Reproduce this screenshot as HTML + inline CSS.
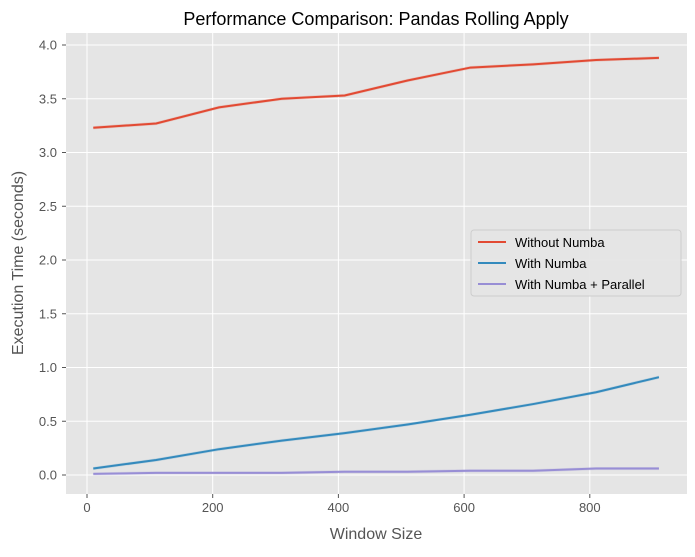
<!DOCTYPE html>
<html><head><meta charset="utf-8"><style>
body{margin:0;background:#fff;font-family:"Liberation Sans",sans-serif;}
</style></head><body>
<svg id="chart" width="695" height="552" xmlns="http://www.w3.org/2000/svg">
<rect x="0" y="0" width="695" height="552" fill="#fff"/>
<rect x="66" y="33" width="621" height="461" fill="#e5e5e5"/>
<g id="grid"></g>
<g id="series"></g>
<g id="ticks"></g>
<text x="376" y="25" text-anchor="middle" font-size="18" fill="#000">Performance Comparison: Pandas Rolling Apply</text>
<text x="376" y="539" text-anchor="middle" font-size="16" fill="#555">Window Size</text>
<text x="23" y="263" text-anchor="middle" font-size="16" fill="#555" transform="rotate(-90 23 263)">Execution Time (seconds)</text>
<g>
<rect x="471" y="230" width="210" height="66" rx="3" fill="#e5e5e5" stroke="#ccc" opacity="0.95"/>
<line x1="478" y1="242" x2="506" y2="242" stroke="#E24A33" stroke-width="2"/>
<text x="515" y="247" font-size="13" fill="#000">Without Numba</text>
<line x1="478" y1="263" x2="506" y2="263" stroke="#348ABD" stroke-width="2"/>
<text x="515" y="268" font-size="13" fill="#000">With Numba</text>
<line x1="478" y1="284" x2="506" y2="284" stroke="#988ED5" stroke-width="2"/>
<text x="515" y="289" font-size="13" fill="#000">With Numba + Parallel</text>
</g>
</svg>
<script>
const windowSizes=[10,110,210,310,410,510,610,710,810,910];
const withoutNumba=[3.23,3.27,3.42,3.50,3.53,3.67,3.79,3.82,3.86,3.88];
const withNumba=[0.06,0.14,0.24,0.32,0.39,0.47,0.56,0.66,0.77,0.91];
const withParallel=[0.01,0.02,0.02,0.02,0.03,0.03,0.04,0.04,0.06,0.06];
const xTicks=[0,200,400,600,800];
const yTicks=[0,0.5,1,1.5,2,2.5,3,3.5,4];
const NS="http://www.w3.org/2000/svg";
const X=v=>87+v*0.6285;
const Y=v=>475-v*107.5;
const grid=document.getElementById('grid'),ticks=document.getElementById('ticks'),ser=document.getElementById('series');
function mk(tag,attrs,parent){const e=document.createElementNS(NS,tag);for(const k in attrs)e.setAttribute(k,attrs[k]);parent.appendChild(e);return e;}
xTicks.forEach(t=>{
 const l=mk('line',{x1:X(t),x2:X(t),y1:33,y2:494,stroke:'#fff','stroke-width':1},grid);
 
 
 const tm=mk('line',{x1:X(t),x2:X(t),y1:494,y2:498,stroke:'#555','stroke-width':1},ticks);
 
 
 const tx=mk('text',{x:X(t),y:512,'text-anchor':'middle','font-size':13,fill:'#555'},ticks);
 tx.textContent=t;
 
 
});
yTicks.forEach(t=>{
 const l=mk('line',{x1:66,x2:687,y1:Y(t),y2:Y(t),stroke:'#fff','stroke-width':1},grid);
 
 
 const tm=mk('line',{x1:62,x2:66,y1:Y(t),y2:Y(t),stroke:'#555','stroke-width':1},ticks);
 
 
 const tx=mk('text',{x:57,y:Y(t)+4.5,'text-anchor':'end','font-size':13,fill:'#555'},ticks);
 tx.textContent=t.toFixed(1);
 
 
});
function line(vals,color,name){
 const band=mk('path',{d:'M'+vals.map((v,i)=>X(windowSizes[i])+','+Y(v+0.015)).join('L')+'L'+vals.map((v,i)=>X(windowSizes[i])+','+Y(v-0.015)).reverse().join('L')+'Z',fill:color,opacity:0.2},ser);
 
 
 const p=mk('polyline',{points:vals.map((v,i)=>X(windowSizes[i])+','+Y(v)).join(' '),fill:'none',stroke:color,'stroke-width':2},ser);
 
 
}
line(withoutNumba,'#E24A33','line-without-numba');
line(withNumba,'#348ABD','line-with-numba');
line(withParallel,'#988ED5','line-with-numba-parallel');
</script>
</body></html>
